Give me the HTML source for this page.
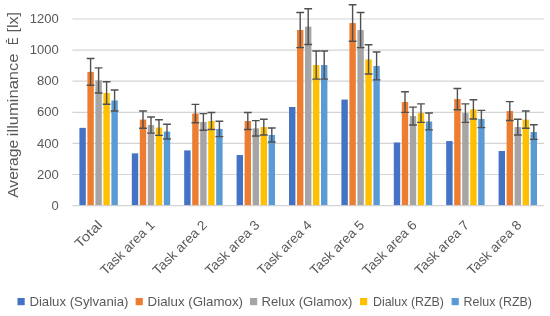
<!DOCTYPE html>
<html><head><meta charset="utf-8"><title>Average illuminance chart</title>
<style>html,body{margin:0;padding:0;background:#fff}svg{display:block}text{font-family:"Liberation Sans",sans-serif;fill:#595959}</style></head><body>
<svg width="550" height="316" viewBox="0 0 550 316">
<rect width="550" height="316" fill="#fff"/>
<line x1="72.4" y1="205.60" x2="544.0" y2="205.60" stroke="#D4D4D4" stroke-width="1.2"/>
<text x="58.8" y="209.70" font-size="13" text-anchor="end" textLength="7.2" lengthAdjust="spacingAndGlyphs">0</text>
<line x1="72.4" y1="174.50" x2="544.0" y2="174.50" stroke="#D4D4D4" stroke-width="1.2"/>
<text x="58.8" y="178.60" font-size="13" text-anchor="end" textLength="21.8" lengthAdjust="spacingAndGlyphs">200</text>
<line x1="72.4" y1="143.40" x2="544.0" y2="143.40" stroke="#D4D4D4" stroke-width="1.2"/>
<text x="58.8" y="147.50" font-size="13" text-anchor="end" textLength="21.8" lengthAdjust="spacingAndGlyphs">400</text>
<line x1="72.4" y1="112.30" x2="544.0" y2="112.30" stroke="#D4D4D4" stroke-width="1.2"/>
<text x="58.8" y="116.40" font-size="13" text-anchor="end" textLength="21.8" lengthAdjust="spacingAndGlyphs">600</text>
<line x1="72.4" y1="81.20" x2="544.0" y2="81.20" stroke="#D4D4D4" stroke-width="1.2"/>
<text x="58.8" y="85.30" font-size="13" text-anchor="end" textLength="21.8" lengthAdjust="spacingAndGlyphs">800</text>
<line x1="72.4" y1="50.10" x2="544.0" y2="50.10" stroke="#D4D4D4" stroke-width="1.2"/>
<text x="58.8" y="54.20" font-size="13" text-anchor="end" textLength="29.0" lengthAdjust="spacingAndGlyphs">1000</text>
<line x1="72.4" y1="19.00" x2="544.0" y2="19.00" stroke="#D4D4D4" stroke-width="1.2"/>
<text x="58.8" y="23.10" font-size="13" text-anchor="end" textLength="29.0" lengthAdjust="spacingAndGlyphs">1200</text>
<rect x="79.40" y="127.85" width="6.40" height="77.25" fill="#4472C4"/>
<rect x="87.40" y="71.87" width="6.40" height="133.23" fill="#ED7D31"/>
<rect x="95.40" y="80.42" width="6.40" height="124.68" fill="#A5A5A5"/>
<rect x="103.40" y="93.02" width="6.40" height="112.08" fill="#FFC000"/>
<rect x="111.40" y="100.48" width="6.40" height="104.62" fill="#5B9BD5"/>
<path d="M90.60 58.50V85.24M86.70 58.50h7.8M86.70 85.24h7.8" stroke="#505050" stroke-width="1.4" fill="none"/>
<path d="M98.60 67.90V92.94M94.70 67.90h7.8M94.70 92.94h7.8" stroke="#505050" stroke-width="1.4" fill="none"/>
<path d="M106.60 81.76V104.28M102.70 81.76h7.8M102.70 104.28h7.8" stroke="#505050" stroke-width="1.4" fill="none"/>
<path d="M114.60 89.97V110.99M110.70 89.97h7.8M110.70 110.99h7.8" stroke="#505050" stroke-width="1.4" fill="none"/>
<rect x="131.80" y="153.35" width="6.40" height="51.75" fill="#4472C4"/>
<rect x="139.80" y="119.61" width="6.40" height="85.49" fill="#ED7D31"/>
<rect x="147.80" y="125.05" width="6.40" height="80.05" fill="#A5A5A5"/>
<rect x="155.80" y="127.54" width="6.40" height="77.56" fill="#FFC000"/>
<rect x="163.80" y="131.58" width="6.40" height="73.52" fill="#5B9BD5"/>
<path d="M143.00 111.01V128.21M139.10 111.01h7.8M139.10 128.21h7.8" stroke="#505050" stroke-width="1.4" fill="none"/>
<path d="M151.00 117.00V133.11M147.10 117.00h7.8M147.10 133.11h7.8" stroke="#505050" stroke-width="1.4" fill="none"/>
<path d="M159.00 119.73V135.35M155.10 119.73h7.8M155.10 135.35h7.8" stroke="#505050" stroke-width="1.4" fill="none"/>
<path d="M167.00 124.18V138.98M163.10 124.18h7.8M163.10 138.98h7.8" stroke="#505050" stroke-width="1.4" fill="none"/>
<rect x="184.20" y="150.40" width="6.40" height="54.70" fill="#4472C4"/>
<rect x="192.20" y="113.54" width="6.40" height="91.56" fill="#ED7D31"/>
<rect x="200.20" y="121.94" width="6.40" height="83.16" fill="#A5A5A5"/>
<rect x="208.20" y="121.01" width="6.40" height="84.09" fill="#FFC000"/>
<rect x="216.20" y="128.94" width="6.40" height="76.16" fill="#5B9BD5"/>
<path d="M195.40 104.34V122.75M191.50 104.34h7.8M191.50 122.75h7.8" stroke="#505050" stroke-width="1.4" fill="none"/>
<path d="M203.40 113.58V130.31M199.50 113.58h7.8M199.50 130.31h7.8" stroke="#505050" stroke-width="1.4" fill="none"/>
<path d="M211.40 112.55V129.47M207.50 112.55h7.8M207.50 129.47h7.8" stroke="#505050" stroke-width="1.4" fill="none"/>
<path d="M219.40 121.27V136.60M215.50 121.27h7.8M215.50 136.60h7.8" stroke="#505050" stroke-width="1.4" fill="none"/>
<rect x="236.60" y="155.06" width="6.40" height="50.04" fill="#4472C4"/>
<rect x="244.60" y="121.01" width="6.40" height="84.09" fill="#ED7D31"/>
<rect x="252.60" y="128.32" width="6.40" height="76.78" fill="#A5A5A5"/>
<rect x="260.60" y="127.07" width="6.40" height="78.03" fill="#FFC000"/>
<rect x="268.60" y="135.00" width="6.40" height="70.10" fill="#5B9BD5"/>
<path d="M247.80 112.55V129.47M243.90 112.55h7.8M243.90 129.47h7.8" stroke="#505050" stroke-width="1.4" fill="none"/>
<path d="M255.80 120.59V136.04M251.90 120.59h7.8M251.90 136.04h7.8" stroke="#505050" stroke-width="1.4" fill="none"/>
<path d="M263.80 119.22V134.93M259.90 119.22h7.8M259.90 134.93h7.8" stroke="#505050" stroke-width="1.4" fill="none"/>
<path d="M271.80 127.94V142.06M267.90 127.94h7.8M267.90 142.06h7.8" stroke="#505050" stroke-width="1.4" fill="none"/>
<rect x="289.00" y="107.01" width="6.40" height="98.09" fill="#4472C4"/>
<rect x="297.00" y="30.04" width="6.40" height="175.06" fill="#ED7D31"/>
<rect x="305.00" y="26.62" width="6.40" height="178.48" fill="#A5A5A5"/>
<rect x="313.00" y="65.03" width="6.40" height="140.07" fill="#FFC000"/>
<rect x="321.00" y="65.03" width="6.40" height="140.07" fill="#5B9BD5"/>
<path d="M300.20 12.48V47.60M296.30 12.48h7.8M296.30 47.60h7.8" stroke="#505050" stroke-width="1.4" fill="none"/>
<path d="M308.20 8.72V44.52M304.30 8.72h7.8M304.30 44.52h7.8" stroke="#505050" stroke-width="1.4" fill="none"/>
<path d="M316.20 50.97V79.09M312.30 50.97h7.8M312.30 79.09h7.8" stroke="#505050" stroke-width="1.4" fill="none"/>
<path d="M324.20 50.97V79.09M320.30 50.97h7.8M320.30 79.09h7.8" stroke="#505050" stroke-width="1.4" fill="none"/>
<rect x="341.40" y="99.55" width="6.40" height="105.55" fill="#4472C4"/>
<rect x="349.40" y="23.04" width="6.40" height="182.06" fill="#ED7D31"/>
<rect x="357.40" y="30.04" width="6.40" height="175.06" fill="#A5A5A5"/>
<rect x="365.40" y="59.43" width="6.40" height="145.67" fill="#FFC000"/>
<rect x="373.40" y="65.96" width="6.40" height="139.14" fill="#5B9BD5"/>
<path d="M352.60 4.79V41.30M348.70 4.79h7.8M348.70 41.30h7.8" stroke="#505050" stroke-width="1.4" fill="none"/>
<path d="M360.60 12.48V47.60M356.70 12.48h7.8M356.70 47.60h7.8" stroke="#505050" stroke-width="1.4" fill="none"/>
<path d="M368.60 44.81V74.05M364.70 44.81h7.8M364.70 74.05h7.8" stroke="#505050" stroke-width="1.4" fill="none"/>
<path d="M376.60 52.00V79.92M372.70 52.00h7.8M372.70 79.92h7.8" stroke="#505050" stroke-width="1.4" fill="none"/>
<rect x="393.80" y="142.47" width="6.40" height="62.63" fill="#4472C4"/>
<rect x="401.80" y="102.04" width="6.40" height="103.06" fill="#ED7D31"/>
<rect x="409.80" y="116.03" width="6.40" height="89.07" fill="#A5A5A5"/>
<rect x="417.80" y="113.08" width="6.40" height="92.02" fill="#FFC000"/>
<rect x="425.80" y="121.47" width="6.40" height="83.63" fill="#5B9BD5"/>
<path d="M405.00 91.68V112.39M401.10 91.68h7.8M401.10 112.39h7.8" stroke="#505050" stroke-width="1.4" fill="none"/>
<path d="M413.00 107.08V124.99M409.10 107.08h7.8M409.10 124.99h7.8" stroke="#505050" stroke-width="1.4" fill="none"/>
<path d="M421.00 103.83V122.33M417.10 103.83h7.8M417.10 122.33h7.8" stroke="#505050" stroke-width="1.4" fill="none"/>
<path d="M429.00 113.06V129.89M425.10 113.06h7.8M425.10 129.89h7.8" stroke="#505050" stroke-width="1.4" fill="none"/>
<rect x="446.20" y="141.07" width="6.40" height="64.03" fill="#4472C4"/>
<rect x="454.20" y="99.08" width="6.40" height="106.02" fill="#ED7D31"/>
<rect x="462.20" y="113.08" width="6.40" height="92.02" fill="#A5A5A5"/>
<rect x="470.20" y="109.35" width="6.40" height="95.75" fill="#FFC000"/>
<rect x="478.20" y="118.99" width="6.40" height="86.11" fill="#5B9BD5"/>
<path d="M457.40 88.43V109.73M453.50 88.43h7.8M453.50 109.73h7.8" stroke="#505050" stroke-width="1.4" fill="none"/>
<path d="M465.40 103.83V122.33M461.50 103.83h7.8M461.50 122.33h7.8" stroke="#505050" stroke-width="1.4" fill="none"/>
<path d="M473.40 99.72V118.97M469.50 99.72h7.8M469.50 118.97h7.8" stroke="#505050" stroke-width="1.4" fill="none"/>
<path d="M481.40 110.33V127.65M477.50 110.33h7.8M477.50 127.65h7.8" stroke="#505050" stroke-width="1.4" fill="none"/>
<rect x="498.60" y="151.02" width="6.40" height="54.08" fill="#4472C4"/>
<rect x="506.60" y="111.06" width="6.40" height="94.04" fill="#ED7D31"/>
<rect x="514.60" y="127.07" width="6.40" height="78.03" fill="#A5A5A5"/>
<rect x="522.60" y="119.61" width="6.40" height="85.49" fill="#FFC000"/>
<rect x="530.60" y="132.05" width="6.40" height="73.05" fill="#5B9BD5"/>
<path d="M509.80 101.60V120.51M505.90 101.60h7.8M505.90 120.51h7.8" stroke="#505050" stroke-width="1.4" fill="none"/>
<path d="M517.80 119.22V134.93M513.90 119.22h7.8M513.90 134.93h7.8" stroke="#505050" stroke-width="1.4" fill="none"/>
<path d="M525.80 111.01V128.21M521.90 111.01h7.8M521.90 128.21h7.8" stroke="#505050" stroke-width="1.4" fill="none"/>
<path d="M533.80 124.69V139.40M529.90 124.69h7.8M529.90 139.40h7.8" stroke="#505050" stroke-width="1.4" fill="none"/>
<text transform="translate(103.10 225.80) rotate(-45)" font-size="13.3" text-anchor="end" textLength="32.5" lengthAdjust="spacingAndGlyphs">Total</text>
<text transform="translate(155.50 225.80) rotate(-45)" font-size="13.3" text-anchor="end" textLength="70.5" lengthAdjust="spacingAndGlyphs">Task area 1</text>
<text transform="translate(207.90 225.80) rotate(-45)" font-size="13.3" text-anchor="end" textLength="70.5" lengthAdjust="spacingAndGlyphs">Task area 2</text>
<text transform="translate(260.30 225.80) rotate(-45)" font-size="13.3" text-anchor="end" textLength="70.5" lengthAdjust="spacingAndGlyphs">Task area 3</text>
<text transform="translate(312.70 225.80) rotate(-45)" font-size="13.3" text-anchor="end" textLength="70.5" lengthAdjust="spacingAndGlyphs">Task area 4</text>
<text transform="translate(365.10 225.80) rotate(-45)" font-size="13.3" text-anchor="end" textLength="70.5" lengthAdjust="spacingAndGlyphs">Task area 5</text>
<text transform="translate(417.50 225.80) rotate(-45)" font-size="13.3" text-anchor="end" textLength="70.5" lengthAdjust="spacingAndGlyphs">Task area 6</text>
<text transform="translate(469.90 225.80) rotate(-45)" font-size="13.3" text-anchor="end" textLength="70.5" lengthAdjust="spacingAndGlyphs">Task area 7</text>
<text transform="translate(522.30 225.80) rotate(-45)" font-size="13.3" text-anchor="end" textLength="70.5" lengthAdjust="spacingAndGlyphs">Task area 8</text>
<text transform="translate(18.3 197.8) rotate(-90)" font-size="14.5" textLength="57.9" lengthAdjust="spacingAndGlyphs">Average</text>
<text transform="translate(18.3 136.2) rotate(-90)" font-size="14.5" textLength="82.7" lengthAdjust="spacingAndGlyphs">illuminance</text>
<text transform="translate(18.3 45.1) rotate(-90)" font-size="14.5" textLength="7.5" lengthAdjust="spacingAndGlyphs">&#274;</text>
<text transform="translate(18.3 32.6) rotate(-90)" font-size="14.5" textLength="20.6" lengthAdjust="spacingAndGlyphs">[lx]</text>
<rect x="17.5" y="298" width="7.2" height="7.2" fill="#4472C4"/>
<text x="29.4" y="306" font-size="13.5" textLength="99.0" lengthAdjust="spacingAndGlyphs">Dialux (Sylvania)</text>
<rect x="135.6" y="298" width="7.2" height="7.2" fill="#ED7D31"/>
<text x="147.6" y="306" font-size="13.5" textLength="95.4" lengthAdjust="spacingAndGlyphs">Dialux (Glamox)</text>
<rect x="250.0" y="298" width="7.2" height="7.2" fill="#A5A5A5"/>
<text x="261.6" y="306" font-size="13.5" textLength="90.9" lengthAdjust="spacingAndGlyphs">Relux (Glamox)</text>
<rect x="360.0" y="298" width="7.2" height="7.2" fill="#FFC000"/>
<text x="373.0" y="306" font-size="13.5" textLength="71.0" lengthAdjust="spacingAndGlyphs">Dialux (RZB)</text>
<rect x="451.6" y="298" width="7.2" height="7.2" fill="#5B9BD5"/>
<text x="463.6" y="306" font-size="13.5" textLength="68.4" lengthAdjust="spacingAndGlyphs">Relux (RZB)</text>
</svg></body></html>
